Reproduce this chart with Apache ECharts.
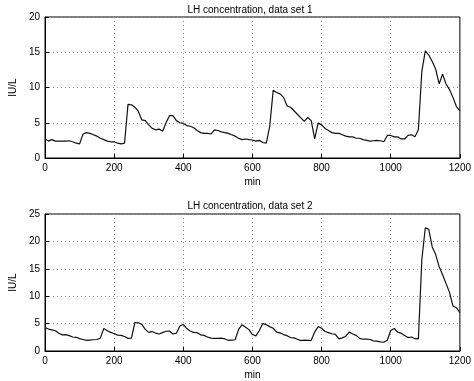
<!DOCTYPE html>
<html>
<head>
<meta charset="utf-8">
<script src="https://cdn.jsdelivr.net/npm/echarts@6/dist/echarts.min.js"></script>
<style>html,body{margin:0;padding:0;background:#fff}#c{width:474px;height:381px}</style>
</head>
<body>
<div id="c"></div>
<script>
var times = [0,10,20,30,40,50,60,70,80,90,100,110,120,130,140,150,160,170,180,190,200,210,220,230,240,250,260,270,280,290,300,310,320,330,340,350,360,370,380,390,400,410,420,430,440,450,460,470,480,490,500,510,520,530,540,550,560,570,580,590,600,610,620,630,640,650,660,670,680,690,700,710,720,730,740,750,760,770,780,790,800,810,820,830,840,850,860,870,880,890,900,910,920,930,940,950,960,970,980,990,1000,1010,1020,1030,1040,1050,1060,1070,1080,1090,1100,1110,1120,1130,1140,1150,1160,1170,1180,1190,1200];
var lh1 = [2.7,2.4,2.6,2.4,2.4,2.4,2.4,2.45,2.3,2.1,2.0,3.4,3.6,3.5,3.3,3.1,2.8,2.6,2.4,2.3,2.3,2.1,2.0,2.1,7.6,7.55,7.2,6.6,5.4,5.3,4.7,4.2,4.0,4.1,3.8,5.0,6.0,6.0,5.3,5.0,4.9,4.6,4.5,4.3,3.9,3.6,3.5,3.5,3.4,4.0,3.9,3.7,3.6,3.5,3.3,3.1,2.8,2.6,2.7,2.6,2.55,2.4,2.5,2.2,2.1,4.5,9.6,9.3,9.1,8.6,7.4,7.2,6.7,6.2,5.7,5.2,5.75,5.3,2.7,4.95,4.7,4.2,3.9,3.6,3.5,3.5,3.3,3.1,3.0,3.0,2.8,2.8,2.6,2.5,2.4,2.45,2.5,2.45,2.3,3.2,3.2,3.0,3.0,2.7,2.7,3.2,3.3,3.0,4.0,12.3,15.2,14.6,13.7,12.6,10.5,11.9,10.5,9.7,8.6,7.3,6.7];
var lh2 = [4.3,4.0,3.85,3.7,3.25,2.95,3.0,2.8,2.55,2.5,2.25,2.1,1.95,2.0,2.05,2.1,2.35,4.1,3.7,3.4,3.2,2.9,2.85,2.65,2.3,2.35,5.2,5.15,4.85,3.95,3.4,3.55,3.25,3.1,3.35,3.6,3.65,3.1,3.25,4.55,4.85,4.1,3.65,3.4,3.35,2.95,2.85,2.55,2.35,2.3,2.3,2.35,2.2,1.95,2.0,2.05,3.95,4.8,4.35,3.9,3.0,2.75,3.75,5.0,4.8,4.45,4.15,3.45,3.3,3.0,2.8,2.45,2.4,2.15,1.9,2.0,1.95,1.95,3.45,4.45,4.15,3.55,3.35,3.15,3.05,2.2,2.4,2.7,3.45,3.1,2.85,2.3,2.15,2.15,2.1,1.85,1.8,1.65,1.6,1.95,3.75,4.1,3.45,3.25,2.85,2.45,2.55,2.25,2.2,16.7,22.5,22.2,19.0,17.6,15.4,13.9,12.3,10.7,8.2,7.9,7.0];
var xTicks = [0,200,400,600,800,1000,1200];
var titles = ['LH concentration, data set 1','LH concentration, data set 2'];
var yMax = [20,25];

function pairs(v){ return times.map(function(t,i){ return [t,v[i]]; }); }
var font = 'Liberation Sans, Arial, sans-serif';
var chart = echarts.init(document.getElementById('c'));
var grids = [{left:30, top:17, width:431, height:141, show:true, borderColor:'#000', borderWidth:1, backgroundColor:'#fff'},
             {left:30, top:214, width:431, height:141, show:true, borderColor:'#000', borderWidth:1, backgroundColor:'#fff'}];
function xAx(i){ return {type:'value', gridIndex:i, min:xTicks[0], max:xTicks[xTicks.length-1], interval:xTicks[1]-xTicks[0], name:'min', nameLocation:'middle', nameGap:19,
  nameTextStyle:{color:'#000', fontSize:10, fontFamily:font},
  axisLine:{show:true, lineStyle:{color:'#000', width:1}}, axisTick:{inside:true, length:4, lineStyle:{color:'#000'}},
  axisLabel:{color:'#000', fontSize:10, fontFamily:font, margin:5, formatter:function(v){ return String(v); }},
  splitLine:{show:true, lineStyle:{color:'#999', type:[1,3], width:1}}}; }
function yAx(i){ return {type:'value', gridIndex:i, min:0, max:yMax[i], interval:5, name:'IU/L', nameLocation:'middle', nameGap:23,
  nameTextStyle:{color:'#000', fontSize:10, fontFamily:font},
  axisLine:{show:true, lineStyle:{color:'#000', width:1}}, axisTick:{inside:true, length:4, lineStyle:{color:'#000'}},
  axisLabel:{color:'#000', fontSize:10, fontFamily:font, margin:5},
  splitLine:{show:true, lineStyle:{color:'#999', type:[1,3], width:1}}}; }
chart.setOption({
  animation:false,
  backgroundColor:'#fff',
  title: titles.map(function(t,i){ return {text:t, left:245, textAlign:'center', top: i===0 ? 0 : 196,
    textStyle:{fontSize:10, fontWeight:'normal', color:'#000', fontFamily:font}}; }),
  grid: grids,
  xAxis:[xAx(0), xAx(1)],
  yAxis:[yAx(0), yAx(1)],
  series:[
    {type:'line', xAxisIndex:0, yAxisIndex:0, data:pairs(lh1), showSymbol:false, lineStyle:{color:'#111', width:1.2}},
    {type:'line', xAxisIndex:1, yAxisIndex:1, data:pairs(lh2), showSymbol:false, lineStyle:{color:'#111', width:1.2}}
  ]
});
</script>
</body>
</html>
